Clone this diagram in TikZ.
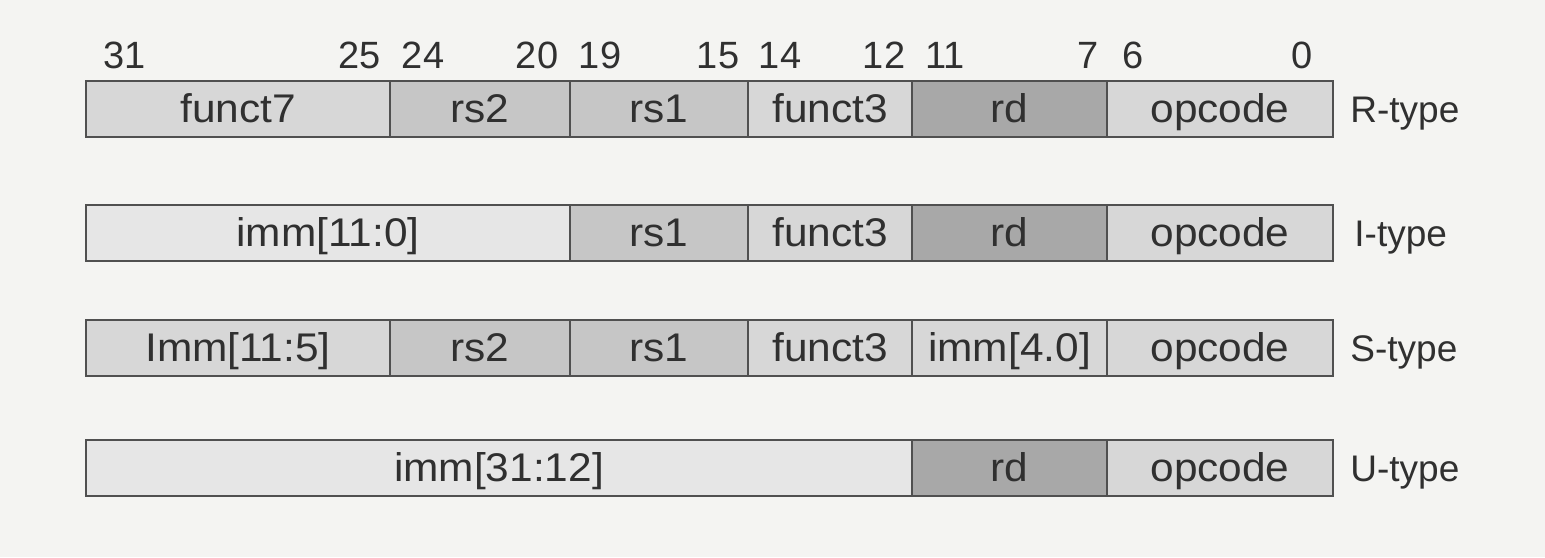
\documentclass[tikz,border=0pt]{standalone}
\usepackage{fontspec}
\setmainfont{Liberation Sans}
\definecolor{bgc}{HTML}{F4F4F2}
\definecolor{lineC}{HTML}{505050}
\definecolor{cLight}{HTML}{E6E6E6}
\definecolor{cMid}{HTML}{D7D7D7}
\definecolor{cReg}{HTML}{C6C6C6}
\definecolor{cDark}{HTML}{A8A8A8}
\definecolor{txt}{HTML}{303030}
\newcommand{\widetxt}[1]{\scalebox{1.06}[1]{#1}}
\begin{document}
\begin{tikzpicture}[x=0.5pt,y=-0.5pt,
  field/.style={draw=lineC, line width=1pt, inner sep=0pt, minimum height=28pt,
    text height=16pt, text depth=3pt,
    text=txt, font=\fontsize{20}{24}\selectfont, anchor=center},
  bitnum/.style={text=txt, font=\fontsize{19}{22}\selectfont, inner sep=0pt, anchor=base},
  typelabel/.style={text=txt, font=\fontsize{18.5}{22}\selectfont, inner sep=0pt, anchor=base west}]
\fill[bgc] (0,0) rectangle (1545,557);
\useasboundingbox (0,0) rectangle (1545,557);
% bit numbers
\node[bitnum] (b31) at (125,68) {31};
\node[bitnum] (b25) at (360,68) {25};
\node[bitnum] (b24) at (423,68) {24};
\node[bitnum] (b20) at (537,68) {20};
\node[bitnum] (b19) at (600,68) {19};
\node[bitnum] (b15) at (718,68) {15};
\node[bitnum] (b14) at (780,68) {14};
\node[bitnum] (b12) at (884,68) {12};
\node[bitnum] (b11) at (945,68) {11};
\node[bitnum] (b7) at (1088,68) {7};
\node[bitnum] (b6) at (1133,68) {6};
\node[bitnum] (b0) at (1302,68) {0};
% R-type
\node[field, fill=cMid, minimum width=152pt] (rf7) at (238,109) {\widetxt{funct7}};
\node[field, fill=cReg, minimum width=90pt] (rrs2) at (480,109) {\widetxt{rs2}};
\node[field, fill=cReg, minimum width=89pt] (rrs1) at (659,109) {\widetxt{rs1}};
\node[field, fill=cMid, minimum width=82pt] (rf3) at (830,109) {\widetxt{funct3}};
\node[field, fill=cDark, minimum width=97.5pt] (rrd) at (1009.5,109) {\widetxt{rd}};
\node[field, fill=cMid, minimum width=113pt] (rop) at (1220,109) {\widetxt{opcode}};
\node[typelabel] (rt) at (1350,122) {R-type};
% I-type
\node[field, fill=cLight, minimum width=242pt] (iimm) at (328,233) {\widetxt{imm[11:0]}};
\node[field, fill=cReg, minimum width=89pt] (irs1) at (659,233) {\widetxt{rs1}};
\node[field, fill=cMid, minimum width=82pt] (if3) at (830,233) {\widetxt{funct3}};
\node[field, fill=cDark, minimum width=97.5pt] (ird) at (1009.5,233) {\widetxt{rd}};
\node[field, fill=cMid, minimum width=113pt] (iop) at (1220,233) {\widetxt{opcode}};
\node[typelabel] (it) at (1354,246) {I-type};
% S-type
\node[field, fill=cMid, minimum width=152pt] (simm1) at (238,348) {\widetxt{Imm[11:5]}};
\node[field, fill=cReg, minimum width=90pt] (srs2) at (480,348) {\widetxt{rs2}};
\node[field, fill=cReg, minimum width=89pt] (srs1) at (659,348) {\widetxt{rs1}};
\node[field, fill=cMid, minimum width=82pt] (sf3) at (830,348) {\widetxt{funct3}};
\node[field, fill=cMid, minimum width=97.5pt] (simm2) at (1009.5,348) {\widetxt{imm[4.0]}};
\node[field, fill=cMid, minimum width=113pt] (sop) at (1220,348) {\widetxt{opcode}};
\node[typelabel] (st) at (1350,361) {S-type};
% U-type
\node[field, fill=cLight, minimum width=413pt] (uimm) at (499,468) {\widetxt{imm[31:12]}};
\node[field, fill=cDark, minimum width=97.5pt] (urd) at (1009.5,468) {\widetxt{rd}};
\node[field, fill=cMid, minimum width=113pt] (uop) at (1220,468) {\widetxt{opcode}};
\node[typelabel] (ut) at (1350,481) {U-type};
\end{tikzpicture}
\end{document}
